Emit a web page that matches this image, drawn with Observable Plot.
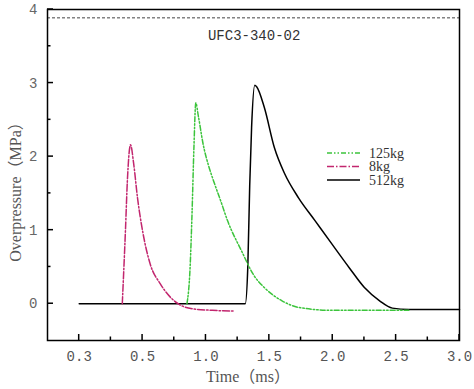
<!DOCTYPE html>
<html><head><meta charset="utf-8">
<script src="https://cdn.jsdelivr.net/npm/d3@7"></script>
<script src="https://cdn.jsdelivr.net/npm/@observablehq/plot@0.6"></script>
<style>body{margin:0;background:#fff}</style>
</head><body><div id="chart"></div>
<script>
// Series: 512 kg (solid black)
const t512 = [0, 1.31, 1.33, 1.345, 1.36, 1.385, 1.40, 1.46, 1.54, 1.62, 1.73, 1.86, 1.99, 2.13, 2.25, 2.37, 2.47, 2.6, 3.0];
const p512 = [0, 0, 0.5, 1.6, 2.4, 2.97, 2.95, 2.67, 2.12, 1.77, 1.44, 1.13, 0.82, 0.49, 0.22, 0.04, -0.06, -0.08, -0.08];
// Series: 8 kg (magenta dash-dot)
const t8 = [0.34, 0.365, 0.38, 0.405, 0.43, 0.46, 0.50, 0.56, 0.64, 0.78, 0.90, 1.05, 1.22];
const p8 = [0, 1.0, 1.67, 2.16, 1.9, 1.44, 0.99, 0.54, 0.27, 0.0, -0.07, -0.09, -0.1];
// Series: 125 kg (green dash-dot-dot)
const t125 = [0.85, 0.875, 0.89, 0.905, 0.92, 0.94, 0.98, 1.02, 1.06, 1.12, 1.17, 1.28, 1.38, 1.46, 1.60, 1.73, 1.99, 2.3, 2.6];
const p125 = [0, 0.5, 1.22, 2.12, 2.73, 2.55, 2.15, 1.88, 1.67, 1.38, 1.13, 0.72, 0.38, 0.22, 0.04, -0.05, -0.09, -0.09, -0.09];

const seriesNames = ["125kg", "8kg", "512kg"];
const seriesColors = ["#3cc43c", "#c2266e", "#000000"];
const seriesDash = ["5,2,1.5,2,1.5,2", "7,2,1.5,2", null];

const ufcLevel = 3.9;
const ufcLabel = "UFC3-340-02";

const xMajor = [0, 0.5, 1.0, 1.5, 2.0, 2.5, 3.0];
const xMajorLabels = ["0.3", "0.5", "1.0", "1.5", "2.0", "2.5", "3.0"];
const xMinor = [0.25, 0.75, 1.25, 1.75, 2.25, 2.75];
const yMajor = [0, 1, 2, 3, 4];
const yMinor = [0.5, 1.5, 2.5, 3.5];

const xLabel = "Time（ms）";
const yLabel = "Overpressure（MPa）";

const toRows = (ts, ps, name) => ts.map((t, i) => ({t, p: ps[i], name}));
const rows125 = toRows(t125, p125, "125kg");
const rows8 = toRows(t8, p8, "8kg");
const rows512 = toRows(t512, p512, "512kg");

const fontMono = "'Liberation Mono', 'DejaVu Sans Mono', monospace";
const fontSerif = "'Liberation Serif', 'Noto Sans CJK SC', serif";

const W = 474, H = 389, mL = 47, mR = 15, mT = 9, mB = 49;

const chart = Plot.plot({
  width: W, height: H,
  marginLeft: mL, marginRight: mR, marginTop: mT, marginBottom: mB,
  x: {domain: [-0.25, 3.0]},
  y: {domain: [-0.5, 4]},
  style: {fontFamily: fontMono, fontSize: "14px", color: "#555", background: "#fff"},
  marks: [
    Plot.ruleY([ufcLevel], {stroke: "#444", strokeWidth: 1, strokeDasharray: "3,2", dy: 1}),
    Plot.text([ufcLabel], {x: 1.38, y: 3.65, text: d => d, fill: "#333", fontSize: 14, fontFamily: fontMono}),
    Plot.line(rows512, {x: "t", y: "p", stroke: seriesColors[2], strokeWidth: 1.5, curve: "monotone-x"}),
    Plot.line(rows8, {x: "t", y: "p", stroke: seriesColors[1], strokeWidth: 1.5, strokeDasharray: seriesDash[1], curve: "monotone-x"}),
    Plot.line(rows125, {x: "t", y: "p", stroke: seriesColors[0], strokeWidth: 1.5, strokeDasharray: seriesDash[0], curve: "monotone-x"}),
    // tick labels
    Plot.axisX({ticks: xMajor, tickSize: 0, tickPadding: 11, tickFormat: (d) => xMajorLabels[xMajor.indexOf(d)], fill: "#555", label: null}),
    Plot.axisY({ticks: yMajor, tickSize: 0, tickPadding: 10, tickFormat: d => String(d), fill: "#666", label: null}),
    Plot.frame({stroke: "#000", strokeWidth: 1.5})
  ]
});
document.getElementById("chart").appendChild(chart);

const svg = d3.select(chart);
const xs = chart.scale("x"), ys = chart.scale("y");
const fx = d3.scaleLinear(xs.domain, xs.range);
const fy = d3.scaleLinear(ys.domain, ys.range);
const bottom = fy(ys.domain[0]), left = fx(xs.domain[0]);

// inward tick marks, positioned through Plot's scales
const tg = svg.append("g");
const addTick = (x1, y1, x2, y2) => tg.append("path")
  .attr("d", `M${x1},${y1}L${x2},${y2}`)
  .attr("stroke", "#000").attr("stroke-width", 1.5).attr("fill", "none");
xMajor.forEach(v => addTick(fx(v), bottom, fx(v), bottom - 6));
xMinor.forEach(v => addTick(fx(v), bottom, fx(v), bottom - 3.5));
yMajor.forEach(v => addTick(left, fy(v), left + 6, fy(v)));
yMinor.forEach(v => addTick(left, fy(v), left + 3.5, fy(v)));

// axis titles
svg.append("text").attr("x", 248).attr("y", 376).attr("dy", "0.35em")
  .attr("text-anchor", "middle").attr("font-family", fontSerif).attr("font-size", 16)
  .attr("fill", "#555").text(xLabel);
svg.append("text").attr("transform", "translate(15,188) rotate(-90)").attr("dy", "0.35em")
  .attr("text-anchor", "middle").attr("font-family", fontSerif).attr("font-size", 16)
  .attr("fill", "#555").text(yLabel);

// Legend drawn inside the plot area
const lg = svg.append("g").attr("transform", "translate(327,153)");
seriesNames.forEach((name, i) => {
  const g = lg.append("g").attr("transform", `translate(0,${i * 13.5})`);
  g.append("line").attr("x1", 0).attr("x2", 33).attr("y1", 0).attr("y2", 0)
    .attr("stroke", seriesColors[i]).attr("stroke-width", 1.5)
    .attr("stroke-dasharray", seriesDash[i]);
  g.append("text").attr("x", 42).attr("y", 0).attr("dy", "0.35em")
    .attr("text-anchor", "start")
    .attr("font-family", fontSerif).attr("font-size", 14)
    .attr("fill", "#333").text(name);
});
</script></body></html>
